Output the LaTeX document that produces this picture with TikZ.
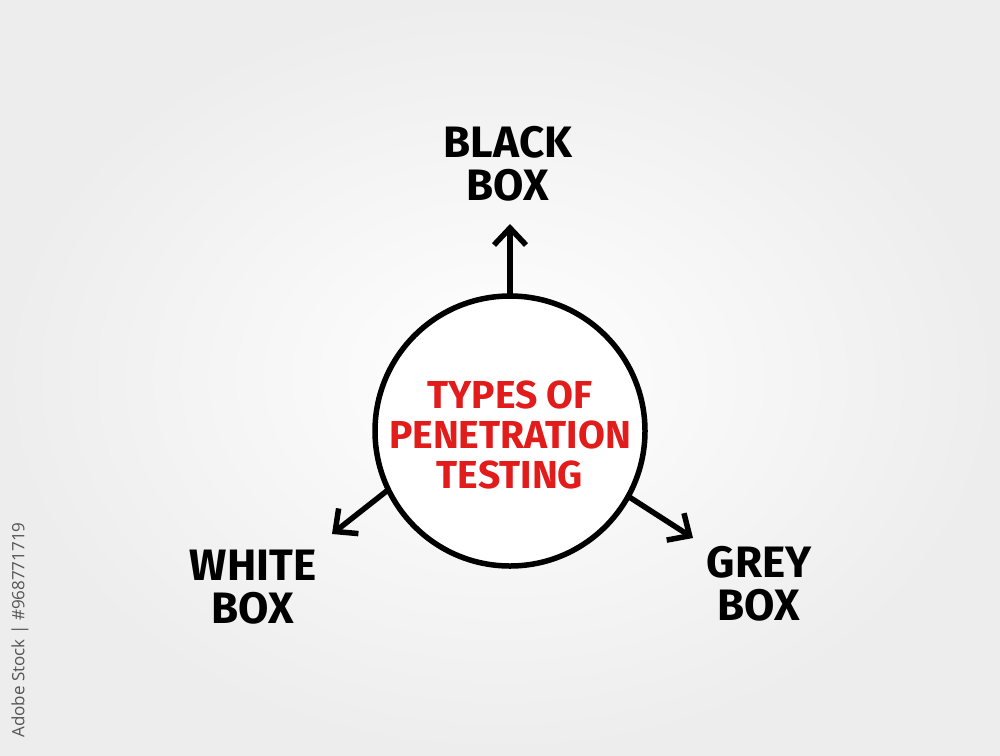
\documentclass[tikz,border=0pt]{standalone}
\usepackage{fontspec}
\setmainfont{Fira Sans}
\newfontfamily\wmfont{Open Sans}
\usetikzlibrary{arrows.meta}
\definecolor{bgedge}{HTML}{EDEDED}
\definecolor{inkred}{HTML}{E21B1B}
\definecolor{wmgrey}{HTML}{555555}
\begin{document}
\begin{tikzpicture}[x=1pt,y=-1pt,
  ink/.style={line width=5.5pt,line cap=round,line join=round},
  arr/.style={ink,-{Straight Barb[length=17pt,width=32pt,line width=5.5pt]}},
  lbl/.style={font=\fontsize{44}{43}\selectfont\bfseries,align=center,text=black,inner sep=0pt},
  hub/.style={circle,draw,line width=5.5pt,minimum size=270pt,inner sep=0pt,fill=white}
]
\useasboundingbox (0,0) rectangle (1000,755);
\shade[inner color=white,outer color=bgedge] (0,0) rectangle (1000,755);
\node[hub] (c) at (510,431) {};
\node[align=center,text=inkred,font=\fontsize{39}{40}\selectfont\bfseries,inner sep=0pt] (t) at (510,435)
  {TYPES OF\\PENETRATION\\TESTING};
\coordinate (ub) at (510,224);
\coordinate (ul) at (332,534);
\coordinate (ur) at (693,538);
\draw[arr] (c.90) -- (ub);
\draw[arr] (c.206.7) -- (ul);
\draw[arr] (c.331.8) -- (ur);
\node[lbl] (black) at (508,164) {BLACK\\BOX};
\node[lbl] (white) at (253,587) {WHITE\\BOX};
\node[lbl] (grey) at (759,584) {GREY\\BOX};
\node[rotate=90,text=wmgrey,font=\wmfont\fontsize{17}{17}\selectfont,inner sep=0pt] (wm) at (20,630) {Adobe Stock | \#968771719};
\end{tikzpicture}
\end{document}
